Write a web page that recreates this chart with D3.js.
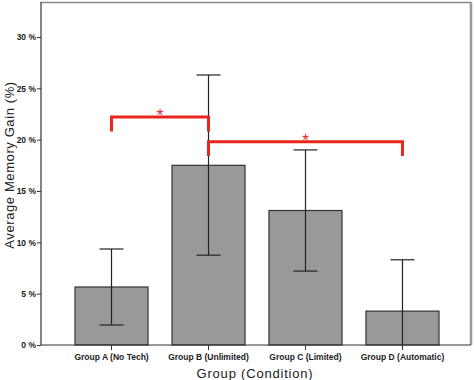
<!DOCTYPE html>
<html><head><meta charset="utf-8">
<script src="https://cdn.jsdelivr.net/npm/d3@7"></script>
<style>body{margin:0;background:#fff}svg{display:block}</style>
</head><body>
<script>
const categories = ["Group A (No Tech)", "Group B (Unlimited)", "Group C (Limited)", "Group D (Automatic)"];
const means = [5.65, 17.5, 13.1, 3.3];
const errUpper = [9.35, 26.3, 19.0, 8.3];
const errLower = [1.95, 8.75, 7.2, -1.7];
const yTicks = [0, 5, 10, 15, 20, 25, 30];
const brackets = [{from: 0, to: 1, level: 22.2, leg: 20.8, label: "*"}, {from: 1, to: 3, level: 19.8, leg: 18.4, label: "*"}];

const W = 474, H = 380;
const svg = d3.select("body").append("svg").attr("width", W).attr("height", H);
const mLeft = 41, mRight = 471, mTop = 2, mBottom = 345;

const x = d3.scaleBand().domain(categories).range([75, 439]).paddingInner(0.247).paddingOuter(0.0);
const y = d3.scaleLinear().domain([0, 30]).range([mBottom, 37]);

// frame
svg.append("line").attr("x1", mLeft).attr("x2", mRight).attr("y1", mTop+0.5).attr("y2", mTop+0.5).attr("stroke", "#888").attr("stroke-width", 1.5);
svg.append("line").attr("x1", mRight).attr("x2", mRight).attr("y1", mTop).attr("y2", mBottom).attr("stroke", "#999").attr("stroke-width", 2.5);

// bars
svg.selectAll("rect.bar").data(categories).enter().append("rect")
  .attr("x", d => x(d)).attr("width", x.bandwidth())
  .attr("y", (d, i) => y(means[i])).attr("height", (d, i) => y(0) - y(means[i]))
  .attr("fill", "#999999").attr("stroke", "#333").attr("stroke-width", 1.2);

// error bars
const cx = d => x(d) + x.bandwidth() / 2;
const clampY = v => y(Math.max(0, v));
svg.selectAll("line.err").data(categories).enter().append("line")
  .attr("x1", cx).attr("x2", cx)
  .attr("y1", (d, i) => y(errUpper[i])).attr("y2", (d, i) => clampY(errLower[i]))
  .attr("stroke", "#222").attr("stroke-width", 1.2);
categories.forEach((d, i) => {
  svg.append("line").attr("x1", cx(d) - 12).attr("x2", cx(d) + 12)
    .attr("y1", y(errUpper[i])).attr("y2", y(errUpper[i])).attr("stroke", "#222").attr("stroke-width", 1.2);
  if (errLower[i] >= 0)
    svg.append("line").attr("x1", cx(d) - 12).attr("x2", cx(d) + 12)
      .attr("y1", y(errLower[i])).attr("y2", y(errLower[i])).attr("stroke", "#222").attr("stroke-width", 1.2);
});

// y axis
const yAxis = svg.append("g").attr("transform", `translate(${mLeft},0)`)
  .call(d3.axisLeft(y).tickValues(yTicks).tickFormat(d => d + " %").tickSize(4).tickSizeOuter(0));
yAxis.select(".domain").remove();
yAxis.selectAll(".tick line").attr("stroke", "#333");
yAxis.selectAll(".tick text").attr("font-family", "Arial, 'Liberation Sans', sans-serif").attr("font-weight", "bold").attr("font-size", 8.5).attr("fill", "#222").attr("x", -5);
svg.append("line").attr("x1", mLeft).attr("x2", mLeft).attr("y1", mTop).attr("y2", mBottom).attr("stroke", "#333").attr("stroke-width", 1.2);

// x axis
const xAxis = svg.append("g").attr("transform", `translate(0,${mBottom})`)
  .call(d3.axisBottom(x).tickSize(5).tickSizeOuter(0));
xAxis.select(".domain").remove();
xAxis.selectAll(".tick line").attr("stroke", "#333");
xAxis.selectAll(".tick text").attr("font-family", "Arial, 'Liberation Sans', sans-serif").attr("font-weight", "bold").attr("font-size", 8.5).attr("fill", "#222").attr("y", 9);
svg.append("line").attr("x1", mLeft).attr("x2", mRight).attr("y1", mBottom).attr("y2", mBottom).attr("stroke", "#333").attr("stroke-width", 1.2);

// significance brackets
brackets.forEach(b => {
  const x1 = cx(categories[b.from]), x2 = cx(categories[b.to]);
  svg.append("path")
    .attr("d", `M${x1},${y(b.leg)}V${y(b.level)}H${x2}V${y(b.leg)}`)
    .attr("fill", "none").attr("stroke", "#e8261a").attr("stroke-width", 3);
  svg.append("text").attr("x", (x1 + x2) / 2).attr("y", y(b.level) + 4)
    .attr("text-anchor", "middle").attr("font-family", "Arial, 'Liberation Sans', sans-serif")
    .attr("font-size", 17).attr("fill", "#e8261a").text(b.label);
});

// axis titles
svg.append("text").attr("transform", `translate(14,165) rotate(-90)`).attr("text-anchor", "middle")
  .attr("font-family", "Arial, 'Liberation Sans', sans-serif").attr("font-size", 13).attr("letter-spacing", 0.6).attr("fill", "#222")
  .text("Average Memory Gain (%)");
svg.append("text").attr("x", 255).attr("y", 378).attr("text-anchor", "middle")
  .attr("font-family", "Arial, 'Liberation Sans', sans-serif").attr("font-size", 13).attr("letter-spacing", 0.8).attr("fill", "#222")
  .text("Group (Condition)");
</script>
</body></html>
